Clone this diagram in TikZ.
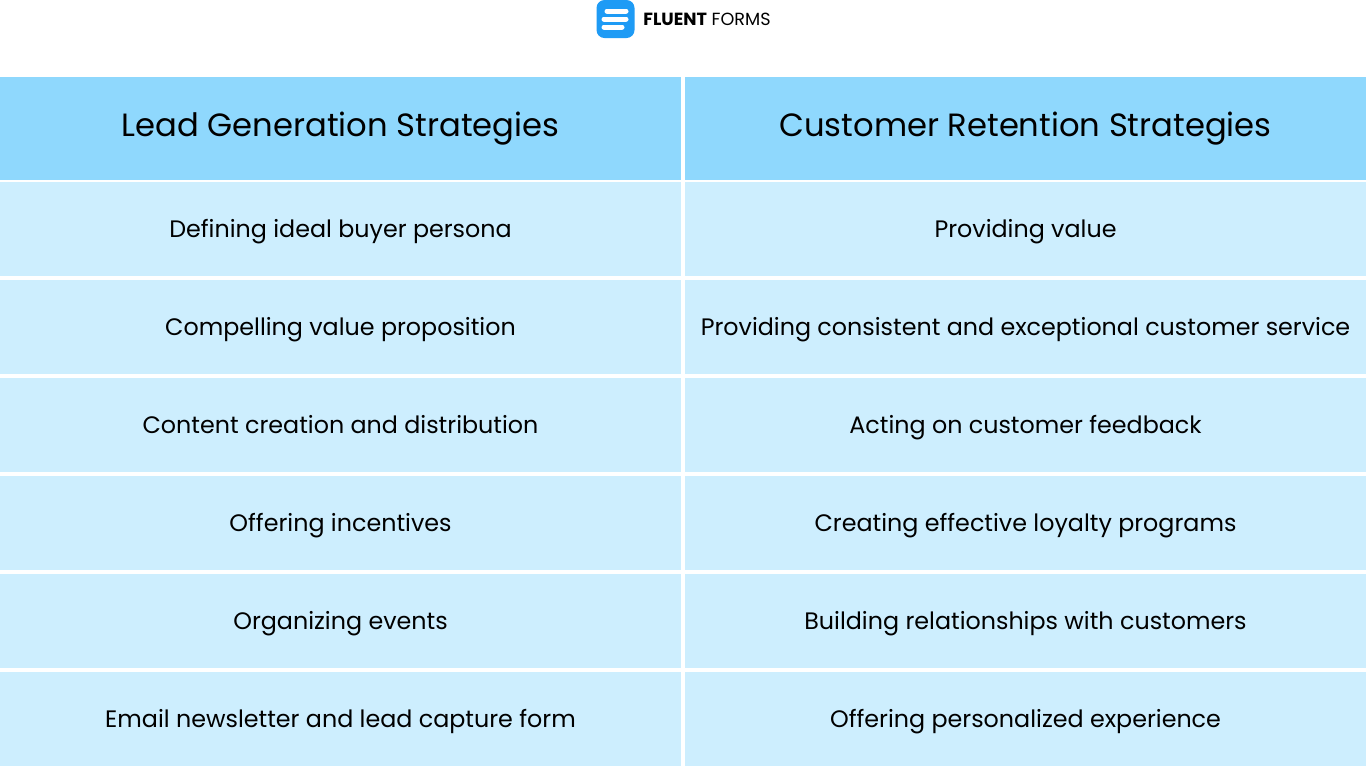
\documentclass[tikz,border=0pt]{standalone}
\usepackage{fontspec}
\setmainfont{Poppins}
\usetikzlibrary{positioning}
\definecolor{headblue}{HTML}{8FD8FD}
\definecolor{cellblue}{HTML}{CDEEFE}
\definecolor{logoblue}{HTML}{1E9BF5}
\begin{document}
\begin{tikzpicture}[x=0.5pt,y=-0.5pt,
    headcell/.style={fill=headblue, inner sep=0pt, minimum width=340.5pt, minimum height=51.5pt, font=\fontsize{16.1}{18}\selectfont},
    bodycell/.style={fill=cellblue, inner sep=0pt, minimum width=340.5pt, minimum height=47pt, font=\fontsize{11.9}{14}\selectfont}
]
    \useasboundingbox [fill=white] (0,0) rectangle (1366,768);
    % Logo
    \node at (615.5,19) [fill=logoblue, rounded corners=4pt, minimum size=19pt, inner sep=0pt](logo){};
    \foreach \yy/\xa/\xb in {11/607/626, 19/604/626, 27/604/622}
        \draw [white, line width=2.5pt, line cap=round] (\xa,\yy) -- (\xb,\yy);
    \node at (643,19) [anchor=west, inner sep=0pt, font=\fontsize{8.8}{10}\selectfont](brand){\textbf{FLUENT} {\addfontfeature{Weight=Light}FORMS}};

    % Header row
    \node at (340.5,128.5) [headcell](leadhead){\raisebox{-1.5pt}{Lead Generation Strategies}};
    \node at (1025.5,128.5) [headcell](retainhead){\raisebox{-1.5pt}{Customer Retention Strategies}};

    % Body rows
    \foreach \i/\lead/\retain in {
        0/Defining ideal buyer persona/Providing value,
        1/Compelling value proposition/Providing consistent and exceptional customer service,
        2/Content creation and distribution/Acting on customer feedback,
        3/Offering incentives/Creating effective loyalty programs,
        4/Organizing events/Building relationships with customers,
        5/Email newsletter and lead capture form/Offering personalized experience}
    {
        \node at (340.5,229+98*\i) [bodycell](lead\i){\raisebox{-1.5pt}[\height][\depth]{\strut\lead}};
        \node at (1025.5,229+98*\i) [bodycell](retain\i){\raisebox{-1.5pt}[\height][\depth]{\strut\retain}};
    }
\end{tikzpicture}
\end{document}
